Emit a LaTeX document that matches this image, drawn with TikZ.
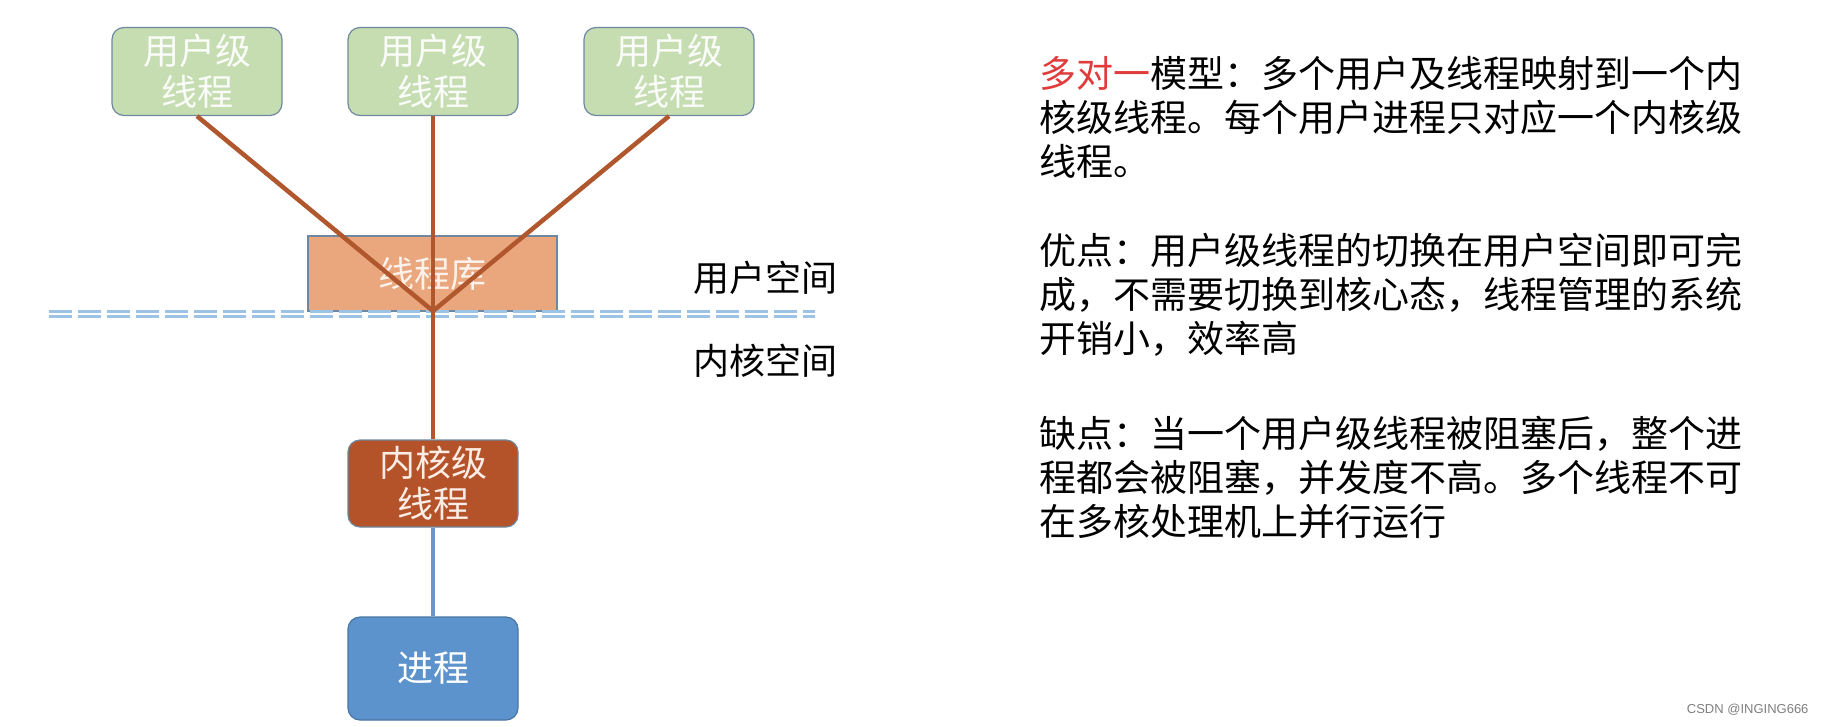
\documentclass[tikz,border=0pt]{standalone}
\usepackage{fontspec}
\setmainfont{Noto Sans CJK SC}
\newfontfamily\marksans{Liberation Sans}
\usetikzlibrary{positioning}
\definecolor{ugreen}{HTML}{C6DDB1}
\definecolor{libfill}{HTML}{EAA67D}
\definecolor{kernfill}{HTML}{B4522A}
\definecolor{procfill}{HTML}{5C93CD}
\definecolor{boxedge}{HTML}{6F88A0}
\definecolor{brownline}{HTML}{B0572D}
\definecolor{blueline}{HTML}{6A97C9}
\definecolor{sepblue}{HTML}{9CC2E5}
\definecolor{redword}{HTML}{E03C3C}

\begin{document}
\begin{tikzpicture}[x=1pt, y=-1pt,
  box/.style={draw=boxedge, line width=1.2pt, rounded corners=12pt, minimum width=170pt, minimum height=88pt, align=center, inner sep=0pt, font=\fontsize{36}{41}\selectfont},
  ubox/.style={box, fill=ugreen, text=white!92!ugreen},
  para/.style={anchor=north west, align=left, inner sep=0pt, font=\fontsize{37}{44}\selectfont},
  lnk/.style={draw=brownline, line width=4.5pt}]
\fill[white] (0,0) rectangle (1825,726);
\useasboundingbox (0,0) rectangle (1825,726);

\node[ubox] (u1) at (197,71.5) {用户级\\线程} ;
\node[ubox] (u2) at (433,71.5) {用户级\\线程} ;
\node[ubox] (u3) at (669,71.5) {用户级\\线程} ;
\node[box, rounded corners=0pt, fill=libfill, text=white!85!libfill, minimum width=249pt, minimum height=75pt] (lib) at (432.5,273.5) {线程库} ;
\node[box, fill=kernfill, text=white!80!libfill, minimum height=87pt] (kern) at (433,483.5) {内核级\\线程} ;
\node[box, fill=procfill, draw=procfill!80!black, text=white, minimum height=103pt] (proc) at (433,668.5) {进程} ;
\coordinate (hub) at (433,311) ;

% user space / kernel space split
\coordinate (sepL) at (49,314) ;
\coordinate (sepR) at (815,314) ;
\draw[sepblue, line width=2.6pt, double=white, double distance=2.4pt, dash pattern=on 23pt off 6pt] (sepL) -- (sepR);
\node[anchor=west, font=\fontsize{36}{41}\selectfont] (usr) at (690,278) {用户空间} ;
\node[anchor=west, font=\fontsize{36}{41}\selectfont] (krn) at (690,361) {内核空间} ;

\draw[lnk] (u1.south) -- (hub);
\draw[lnk] (u3.south) -- (hub);
\draw[lnk] (u2.south) -- (kern.north);
\draw[blueline, line width=4pt] (kern.south) -- (proc.north);

\node[para] (p1) at (1039,56) {\textcolor{redword}{多对一}模型：多个用户及线程映射到一个内\\核级线程。每个用户进程只对应一个内核级\\线程。} ;
\node[para] (p2) at (1039,233) {优点：用户级线程的切换在用户空间即可完\\成，不需要切换到核心态，线程管理的系统\\开销小，效率高} ;
\node[para] (p3) at (1039,416) {缺点：当一个用户级线程被阻塞后，整个进\\程都会被阻塞，并发度不高。多个线程不可\\在多核处理机上并行运行} ;
\node[anchor=east, text=gray, font=\marksans\fontsize{13}{15}\selectfont] (mark) at (1812,710) {CSDN @INGING666} ;
\end{tikzpicture}
\end{document}
